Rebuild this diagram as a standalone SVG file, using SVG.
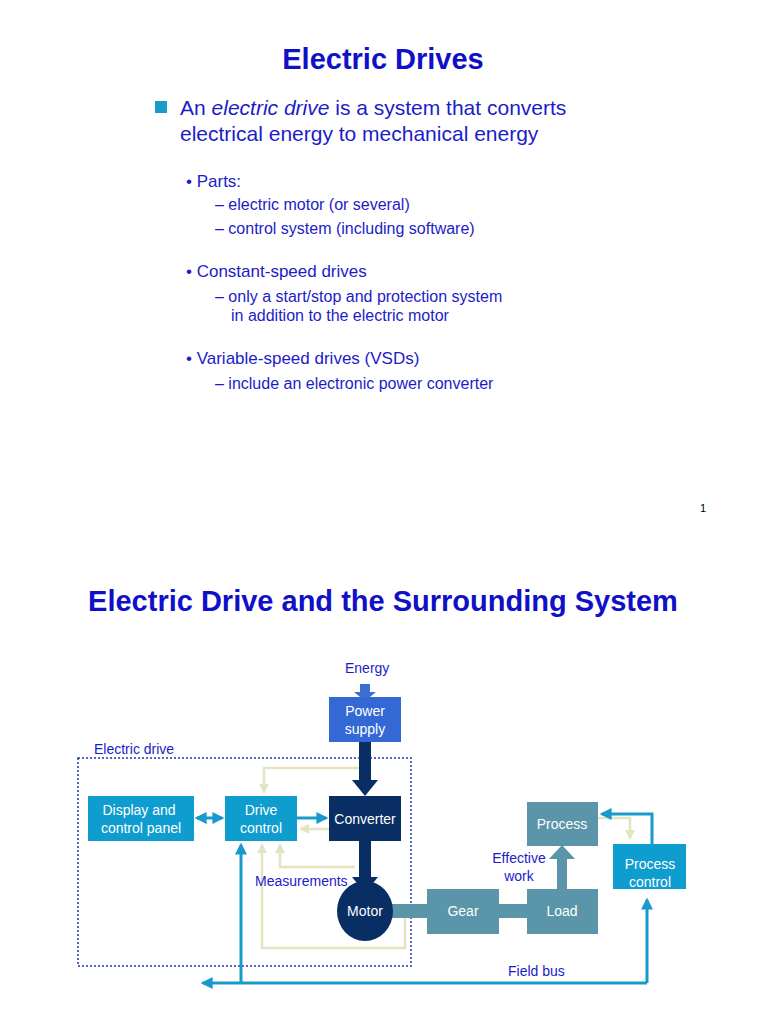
<svg xmlns="http://www.w3.org/2000/svg" width="768" height="1024" viewBox="0 0 768 1024">
<style>
text{font-family:"Liberation Sans",Arial,sans-serif;fill:#1c1cc8}
.t{font-weight:bold;font-size:29px;text-anchor:middle;fill:#1010c8}
.b{font-size:21px}.s{font-size:17px}.m{font-size:16px}
.w{fill:#fff;font-size:14px;text-anchor:middle}
.l{font-size:14px}
.fb{stroke:#1a9acb;stroke-width:3;fill:none}
.ms{stroke:#e4e4c0;stroke-width:2.5;fill:none}
</style>
<defs>
<marker id="ab" viewBox="0 0 10 10" refX="8" refY="5" markerWidth="4" markerHeight="4" orient="auto-start-reverse"><path d="M0,0L10,5L0,10z" fill="#1a9acb"/></marker>
<marker id="am" viewBox="0 0 10 10" refX="8" refY="5" markerWidth="4" markerHeight="4" orient="auto"><path d="M0,0L10,5L0,10z" fill="#e4e4c0"/></marker>
</defs>
<text class="t" x="383" y="69">Electric Drives</text>
<rect x="155" y="101" width="12" height="12" fill="#1a9acb"/>
<text class="b" x="180" y="115">An <tspan font-style="italic">electric drive</tspan> is a system that converts</text>
<text class="b" x="180" y="141">electrical energy to mechanical energy</text>
<text class="s" x="186" y="187">• Parts:</text>
<text class="m" x="215" y="210">– electric motor (or several)</text>
<text class="m" x="215" y="234">– control system (including software)</text>
<text class="s" x="186" y="277">• Constant-speed drives</text>
<text class="m" x="215" y="302">– only a start/stop and protection system</text>
<text class="m" x="231" y="321">in addition to the electric motor</text>
<text class="s" x="186" y="364">• Variable-speed drives (VSDs)</text>
<text class="m" x="215" y="389">– include an electronic power converter</text>
<text x="700" y="512" font-size="11" fill="#000" style="fill:#000">1</text>
<text class="t" x="383" y="611">Electric Drive and the Surrounding System</text>

<g id="connectors">
<rect x="78" y="758" width="333" height="208" fill="none" stroke="#1a3aa8" stroke-width="1.5" stroke-dasharray="2,2"/>
<path d="M360,684h10v8h6l-11,9l-11,-9h6z" fill="#3b6fd4"/>
<path d="M359,742h12v38h7l-13,16l-13,-16h7z" fill="#082e63"/>
<path d="M359,841h12v36h7l-13,16l-13,-16h7z" fill="#082e63"/>
<rect x="391" y="904" width="40" height="14" fill="#5a95aa"/>
<rect x="495" y="904" width="36" height="14" fill="#5a95aa"/>
<path d="M557,889v-30h-8l13,-14l13,14h-8v30z" fill="#5a95aa"/>
<path class="ms" d="M359,768H264v24" marker-end="url(#am)"/>
<path class="ms" d="M329,829H301" marker-end="url(#am)"/>
<path class="ms" d="M355,867H280v-22" marker-end="url(#am)"/>
<path class="ms" d="M405,918v30H262v-103" marker-end="url(#am)"/>
<path class="ms" d="M598,818h32v20" marker-end="url(#am)"/>
<path class="fb" d="M197,818H222" marker-start="url(#ab)" marker-end="url(#ab)"/>
<path class="fb" d="M297,818H326" marker-end="url(#ab)"/>
<path class="fb" d="M647,983V900" marker-end="url(#ab)"/>
<path class="fb" d="M647,983H203" marker-end="url(#ab)"/>
<path class="fb" d="M241,983V845" marker-end="url(#ab)"/>
<path class="fb" d="M652,844V814H602" marker-end="url(#ab)"/>
</g>
<text class="l" x="345" y="673">Energy</text>
<text class="l" x="94" y="754">Electric drive</text>
<text class="l" x="255" y="886">Measurements</text>
<text class="l" x="519" y="863" text-anchor="middle">Effective</text>
<text class="l" x="519" y="881" text-anchor="middle">work</text>
<text class="l" x="508" y="976">Field bus</text>
<g id="power"><rect x="329" y="697" width="72" height="45" fill="#3468d4"/><text class="w" x="365" y="716">Power</text><text class="w" x="365" y="734">supply</text></g>
<g id="converter"><rect x="329" y="796" width="72" height="45" fill="#082e63"/><text class="w" x="365" y="824">Converter</text></g>
<g id="drive"><rect x="225" y="796" width="72" height="45" fill="#0f9ccf"/><text class="w" x="261" y="815">Drive</text><text class="w" x="261" y="833">control</text></g>
<g id="display"><rect x="88" y="796" width="106" height="45" fill="#0f9ccf"/><text class="w" x="139" y="815">Display and</text><text class="w" x="141" y="833">control panel</text></g>
<g id="motor"><ellipse cx="365" cy="911" rx="28" ry="30" fill="#082e63"/><text class="w" x="365" y="916">Motor</text></g>
<g id="gear"><rect x="427" y="889" width="72" height="45" fill="#5a95aa"/><text class="w" x="463" y="916">Gear</text></g>
<g id="load"><rect x="527" y="889" width="71" height="45" fill="#5a95aa"/><text class="w" x="562" y="916">Load</text></g>
<g id="process"><rect x="527" y="802" width="71" height="44" fill="#5a95aa"/><text class="w" x="562" y="829">Process</text></g>
<g id="pcontrol"><rect x="613" y="844" width="73" height="45" fill="#0f9ccf"/><text class="w" x="650" y="869">Process</text><text class="w" x="650" y="887">control</text></g>
</svg>
